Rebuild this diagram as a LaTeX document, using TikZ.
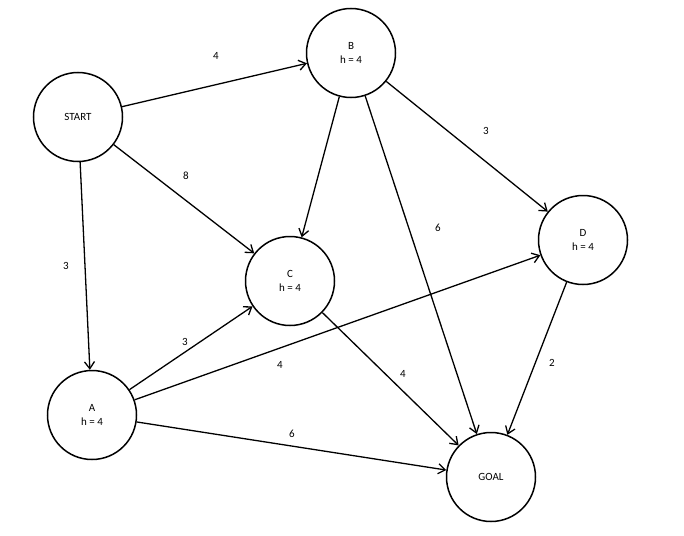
\documentclass[tikz,border=0pt]{standalone}
\usepackage{fontspec}
\setmainfont{Carlito}
\usetikzlibrary{arrows.meta}
\begin{document}
\begin{tikzpicture}[x=1pt,y=-1pt,
  st/.style={circle,draw,line width=1.5pt,minimum size=89pt,inner sep=0pt,align=center,font=\fontsize{11}{14}\selectfont},
  ed/.style={line width=1.3pt,-{Straight Barb[length=7pt,width=10pt,line width=1.3pt]}},
  lb/.style={font=\fontsize{11}{13}\selectfont}]
\useasboundingbox[fill=white] (0,0) rectangle (684,535);
\node[st] (S) at (78,117) {START};
\node[st] (B) at (351,53) {B\\h = 4};
\node[st] (C) at (290,281) {C\\h = 4};
\node[st] (D) at (583,240) {D\\h = 4};
\node[st] (A) at (92,415) {A\\h = 4};
\node[st] (G) at (491,477) {GOAL};
\draw[ed] (S) -- (B);
\draw[ed] (S) -- (C);
\draw[ed] (S) -- (A);
\draw[ed] (B) -- (C);
\draw[ed] (B) -- (D);
\draw[ed] (B) -- (G);
\draw[ed] (A) -- (C);
\draw[ed] (A) -- (D);
\draw[ed] (A) -- (G);
\draw[ed] (C) -- (G);
\draw[ed] (D) -- (G);
\node[lb] (l1) at (216,56) {4};
\node[lb] (l2) at (186,176) {8};
\node[lb] (l3) at (66,266) {3};
\node[lb] (l4) at (486,131) {3};
\node[lb] (l5) at (438,228) {6};
\node[lb] (l6) at (185,342) {3};
\node[lb] (l7) at (280,365) {4};
\node[lb] (l8) at (403,374) {4};
\node[lb] (l9) at (292,434) {6};
\node[lb] (l10) at (552,363) {2};
\end{tikzpicture}
\end{document}
